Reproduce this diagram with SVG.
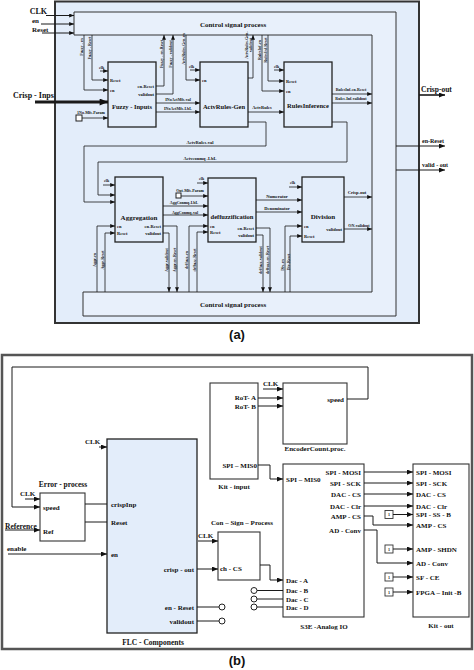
<svg xmlns="http://www.w3.org/2000/svg" width="474" height="670" viewBox="0 0 474 670">
<style>
text{font-family:"Liberation Serif","Times New Roman",serif;font-weight:bold;fill:#111}
.blk{fill:#e3edfa;stroke:#222;stroke-width:1.3}
.csp{fill:#e8f0fb;stroke:#333;stroke-width:1}
.wb{fill:#fff;stroke:#333;stroke-width:1.1}
.ln{fill:none;stroke:#1a1a1a;stroke-width:0.8}
.lb{fill:none;stroke:#1a1a1a;stroke-width:1}
.t4{font-size:4px}.t45{font-size:4.5px}.t6{font-size:6px}.t65{font-size:6.5px}.t7{font-size:7px}.t75{font-size:7.5px}.t8{font-size:8px}
.cap{font-family:"Liberation Sans",Arial,sans-serif;font-size:13px}
.m{text-anchor:middle}.e{text-anchor:end}
</style>
<defs>
<marker id="ma" viewBox="0 0 6 5" refX="6" refY="2.5" markerWidth="5" markerHeight="4" markerUnits="userSpaceOnUse" orient="auto"><path d="M0,0L6,2.5L0,5z" fill="#111"/></marker>
<marker id="mb" viewBox="0 0 6 5" refX="6" refY="2.5" markerWidth="7" markerHeight="5" markerUnits="userSpaceOnUse" orient="auto"><path d="M0,0L6,2.5L0,5z" fill="#111"/></marker>
<marker id="mc" viewBox="0 0 6 5" refX="6" refY="2.5" markerWidth="9" markerHeight="7" markerUnits="userSpaceOnUse" orient="auto"><path d="M0,0L6,2.5L0,5z" fill="#111"/></marker>
</defs>

<!-- ===== Part (a) ===== -->
<g id="a-frame"><rect x="55" y="1.5" width="364" height="321.5" fill="#e3edfa" stroke="#333" stroke-width="2"/></g>
<g id="control-signal-process">
<path class="csp" d="M74,12H396V316H83V292H372V35H74Z"/>
<text class="t7 m" x="233" y="27">Control signal process</text>
<text class="t7 m" x="233" y="307">Control signal process</text>
</g>
<g id="fuzzy-inputs"><rect class="blk" x="108" y="62" width="48" height="65"/>
<text class="t65 m" x="132" y="109">Fuzzy - Inputs</text>
<text class="t45" x="110" y="82">Reset</text><text class="t45" x="110" y="92">en</text>
<text class="t45 e" x="154" y="87.5">en-Reset</text><text class="t45 e" x="154" y="96">validout</text></g>
<g id="actvrules-gen"><rect class="blk" x="200" y="62" width="48" height="65"/>
<text class="t65 m" x="224" y="109">ActvRules-Gen</text>
<text class="t45" x="202" y="82">en</text></g>
<g id="rules-inference"><rect class="blk" x="284" y="62" width="48" height="65"/>
<text class="t65 m" x="308" y="108">RulesInference</text>
<text class="t45" x="286" y="82.5">Reset</text><text class="t45" x="286" y="92.5">en</text></g>
<g id="aggregation"><rect class="blk" x="115" y="177" width="48" height="65"/>
<text class="t7 m" x="139" y="220">Aggregation</text>
<text class="t45" x="117" y="227.5">en</text><text class="t45" x="117" y="235">Reset</text>
<text class="t45 e" x="161" y="227.5">en-Reset</text><text class="t45 e" x="161" y="235">validout</text></g>
<g id="deffuzzification"><rect class="blk" x="208" y="178" width="48" height="64"/>
<text class="t65 m" x="232" y="219">deffuzzification</text>
<text class="t45" x="210" y="227.5">en</text><text class="t45" x="210" y="234">Reset</text>
<text class="t45 e" x="254" y="229.5">en-Reset</text><text class="t45 e" x="254" y="237">validout</text></g>
<g id="division"><rect class="blk" x="302" y="177" width="42" height="65"/>
<text class="t7 m" x="323" y="219">Division</text>
<text class="t45" x="304" y="227.5">en</text><text class="t45" x="304" y="237.5">Reset</text>
<text class="t45 e" x="342" y="231">validout</text></g>
<g id="param-boxes"><rect x="76" y="115" width="6" height="6" fill="#fff" stroke="#222" stroke-width="1"/>
<rect x="176" y="193" width="5" height="5" fill="#fff" stroke="#222" stroke-width="1"/></g>

<g id="a-connectors">
<g class="lb">
<path d="M46,15.5H74" marker-end="url(#ma)"/>
<path d="M41,24H74" marker-end="url(#ma)"/>
<path d="M42,33H74" marker-end="url(#ma)"/>
<path d="M35,102H108" stroke-width="2.8" marker-end="url(#mc)"/>
<path d="M419,95H445" stroke-width="1.6" marker-end="url(#mb)"/>
<path d="M396,146H445" marker-end="url(#mb)"/>
<path d="M396,170H445" marker-end="url(#mb)"/>
</g>
<g class="ln">
<path d="M100,71H108" marker-end="url(#ma)"/>
<path d="M92,35V80H108" marker-end="url(#ma)"/>
<path d="M84,35V90H108" marker-end="url(#ma)"/>
<path d="M156,86H164V35" marker-end="url(#ma)"/>
<path d="M156,94H173V35" marker-end="url(#ma)"/>
<path d="M156,103H200" marker-end="url(#ma)"/>
<path d="M156,112H200" marker-end="url(#ma)"/>
<path d="M82,118H108" marker-end="url(#ma)"/>
<path d="M190,70H200" marker-end="url(#ma)"/>
<path d="M186,35V80H200" marker-end="url(#ma)"/>
<path d="M248,78H253V35" marker-end="url(#ma)"/>
<path d="M248,112H284" marker-end="url(#ma)"/>
<path d="M274,70H284" marker-end="url(#ma)"/>
<path d="M268,35V81H284" marker-end="url(#ma)"/>
<path d="M262,35V91H284" marker-end="url(#ma)"/>
<path d="M332,94H372" marker-end="url(#ma)"/>
<path d="M332,103H372" marker-end="url(#ma)"/>
<path d="M248,122H266V146H84V202H115" marker-end="url(#ma)"/>
<path d="M332,122H347V162H98V195H115" marker-end="url(#ma)"/>
<path d="M103,185H115" marker-end="url(#ma)"/>
<path d="M97,292V226H115" marker-end="url(#ma)"/>
<path d="M105,292V233H115" marker-end="url(#ma)"/>
<path d="M163,226H177V292" marker-end="url(#ma)"/>
<path d="M163,233H169V292" marker-end="url(#ma)"/>
<path d="M181,196H208" marker-end="url(#ma)"/>
<path d="M163,206H208" marker-end="url(#ma)"/>
<path d="M163,215H208" marker-end="url(#ma)"/>
<path d="M197,183H208" marker-end="url(#ma)"/>
<path d="M189,292V226H208" marker-end="url(#ma)"/>
<path d="M197,292V232H208" marker-end="url(#ma)"/>
<path d="M256,228H270V292" marker-end="url(#ma)"/>
<path d="M256,235H263V292" marker-end="url(#ma)"/>
<path d="M256,200H302" marker-end="url(#ma)"/>
<path d="M256,212H302" marker-end="url(#ma)"/>
<path d="M289,187H302" marker-end="url(#ma)"/>
<path d="M285,292V226H302" marker-end="url(#ma)"/>
<path d="M290,292V236H302" marker-end="url(#ma)"/>
<path d="M344,197H372" marker-end="url(#ma)"/>
<path d="M344,229H372" marker-end="url(#ma)"/>
</g>
<text class="t8 e" x="47" y="14">CLK</text>
<text class="t7" x="32" y="23">en</text>
<text class="t7" x="32" y="31.5">Reset</text>
<text class="t8" x="13" y="98">Crisp - Inps</text>
<text class="t75" x="421" y="92">Crisp-out</text>
<text class="t6" x="422" y="143">en-Reset</text>
<text class="t6" x="422" y="167">valid - out</text>
<text class="t4" x="99" y="69">clk</text>
<text class="t4" x="189" y="68">clk</text>
<text class="t4" x="274" y="68">clk</text>
<text class="t4" x="104" y="182">clk</text>
<text class="t4" x="199" y="180">clk</text>
<text class="t4" x="290" y="184">clk</text>
<text class="t4 m" x="178" y="100.5">INoActMfs-val</text>
<text class="t4 m" x="178" y="109.5">INoActMfs-LbL</text>
<text class="t4" x="77" y="114">1No-Mfs-Param</text>
<text class="t45 m" x="262" y="109">ActvRules</text>
<text class="t4 m" x="351" y="91">RulesInf-en-Reset</text>
<text class="t4 m" x="351" y="100">Rules-Inf-validout</text>
<text class="t45 m" x="200" y="144">ActvRules-val</text>
<text class="t45 m" x="200" y="160">Actvconmq -LbL</text>
<text class="t4 m" x="190" y="192">Out-Mfs-Param</text>
<text class="t4 m" x="184" y="204">AggConmq-LbL</text>
<text class="t4 m" x="185" y="213.5">AggConmq-val</text>
<text class="t45 m" x="277" y="198">Numerator</text>
<text class="t45 m" x="277" y="209.5">Denominator</text>
<text class="t45 m" x="357" y="193.5">Crisp-out</text>
<text class="t4 m" x="359" y="226.5">ON-validout</text>
<g class="t4 m">
<text transform="translate(83,47) rotate(-90)">Fuzzy - en</text>
<text transform="translate(91,48) rotate(-90)">Fuzzy - Reset</text>
<text transform="translate(163,54) rotate(-90)">Fuzzy - en-Reset</text>
<text transform="translate(172,54) rotate(-90)">Fuzzy - validout</text>
<text transform="translate(185,49) rotate(-90)">ActvRules-Gen-en</text>
<text transform="translate(248,45) rotate(-90)">ActvRules-Gen-</text>
<text transform="translate(252,45) rotate(-90)">validout</text>
<text transform="translate(261,50) rotate(-90)">RulesInf-en</text>
<text transform="translate(267,50) rotate(-90)">RulesInf-Reset</text>
<text transform="translate(96,260) rotate(-90)">Aggr-en</text>
<text transform="translate(104,260) rotate(-90)">Aggr-Reset</text>
<text transform="translate(168,260) rotate(-90)">Aggr-validout</text>
<text transform="translate(176,260) rotate(-90)">Aggr-en-Reset</text>
<text transform="translate(188,260) rotate(-90)">deffuzz-en</text>
<text transform="translate(196,260) rotate(-90)">deffuzz-Reset</text>
<text transform="translate(262,260) rotate(-90)">deffuzz-validout</text>
<text transform="translate(269,260) rotate(-90)">deffuzz-en-Reset</text>
<text transform="translate(284,265) rotate(-90)">Div-en</text>
<text transform="translate(289.5,262) rotate(-90)">Div-Reset</text>
</g>
</g>
<text class="cap m" x="237" y="339">(a)</text>

<!-- ===== Part (b) ===== -->
<g id="b-frame"><rect x="2" y="355" width="470" height="294" fill="#fff" stroke="#555" stroke-width="2.5"/></g>
<g id="encoder-count"><rect class="wb" x="283" y="383" width="64" height="61"/>
<text class="t7 e" x="344" y="401.5">speed</text>
<text class="t7 m" x="315" y="451">EncoderCount.proc.</text></g>
<g id="kit-input"><rect class="wb" x="210" y="383" width="48" height="96"/>
<text class="t7 e" x="256" y="400">RoT- A</text>
<text class="t7 e" x="256" y="409">RoT- B</text>
<text class="t7 e" x="257" y="467.5">SPI – MIS0</text>
<text class="t7 m" x="234" y="489">Kit - input</text></g>
<g id="error-process"><rect class="wb" x="40" y="493" width="45" height="48"/>
<text class="t7" x="43" y="509.5">speed</text>
<text class="t7" x="43" y="533.5">Ref</text>
<text class="t75 m" x="63" y="487">Error - process</text></g>
<g id="flc-components"><rect class="blk" x="107" y="439" width="90" height="194" stroke="#444" stroke-width="1.1"/>
<text class="t7" x="111" y="506.5">crispInp</text>
<text class="t7" x="111" y="525">Reset</text>
<text class="t7" x="111" y="556.5">en</text>
<text class="t7 e" x="194" y="571.5">crisp - out</text>
<text class="t7 e" x="194" y="609.5">en - Reset</text>
<text class="t7 e" x="194" y="623.5">validout</text>
<text class="t75 m" x="153" y="645">FLC - Components</text></g>
<g id="con-sign-process"><rect class="wb" x="218" y="532" width="42" height="48"/>
<text class="t7" x="220" y="570.5">ch - CS</text>
<text class="t7 m" x="242" y="525">Con – Sign – Process</text></g>
<g id="s3e-analog-io"><rect class="wb" x="283" y="464" width="81" height="153"/>
<text class="t7" x="286" y="481.5">SPI – MIS0</text>
<g class="t7 e">
<text x="361" y="474.5">SPI - MOSI</text><text x="361" y="485.5">SPI - SCK</text>
<text x="361" y="496.5">DAC - CS</text><text x="361" y="508.5">DAC - Clr</text>
<text x="361" y="518.5">AMP - CS</text><text x="361" y="532.5">AD - Conv</text></g>
<g class="t7">
<text x="286" y="582.5">Dac - A</text><text x="286" y="593">Dac - B</text>
<text x="286" y="601.5">Dac - C</text><text x="286" y="609.5">Dac - D</text></g>
<text class="t7 m" x="324" y="629">S3E -Analog IO</text></g>
<g id="kit-out"><rect class="wb" x="413" y="464" width="56" height="153"/>
<g class="t7">
<text x="416" y="474.5">SPI - MOSI</text><text x="416" y="485.5">SPI - SCK</text>
<text x="416" y="496.5">DAC - CS</text><text x="416" y="508.5">DAC - Clr</text>
<text x="416" y="517">SPI - SS - B</text><text x="416" y="527.5">AMP - CS</text>
<text x="416" y="551.5">AMP - SHDN</text><text x="416" y="565.5">AD - Conv</text>
<text x="416" y="579.5">SF - CE</text><text x="416" y="594.5">FPGA – Init -B</text></g>
<text class="t7 m" x="441" y="628">Kit - out</text></g>
<g id="const-1">
<g fill="#fff" stroke="#333" stroke-width="0.9">
<rect x="385" y="510.5" width="8" height="8"/><rect x="385" y="545" width="8" height="8"/>
<rect x="385" y="573" width="8" height="8"/><rect x="385" y="588" width="8" height="8"/></g>
<g class="t4 m"><text x="389" y="516">1</text><text x="389" y="550.5">1</text><text x="389" y="578.5">1</text><text x="389" y="593.5">1</text></g>
</g>
<g id="b-connectors">
<g class="lb">
<path d="M347,399H368V367H12V507H40" marker-end="url(#mb)"/>
<path d="M263,389H283" marker-end="url(#mb)"/>
<path d="M258,398H283" marker-end="url(#mb)"/>
<path d="M258,406H283" marker-end="url(#mb)"/>
<path d="M258,465H270V479H283" marker-end="url(#mb)"/>
<path d="M25,499H40" marker-end="url(#mb)"/>
<path d="M5,530H40" marker-end="url(#mb)"/>
<path d="M85,504H107"/>
<path d="M85,522H107"/>
<path d="M8,554H107" marker-end="url(#mb)"/>
<path d="M99,447H107" marker-end="url(#mb)"/>
<path d="M197,569H218" marker-end="url(#mb)"/>
<path d="M198,541H218" marker-end="url(#mb)"/>
<path d="M197,607H219"/>
<path d="M197,621H219"/>
<path d="M260,565H270V580H283" marker-end="url(#mb)"/>
<path d="M257,590.5H283"/>
<path d="M257,599H283"/>
<path d="M257,607H283"/>
<path d="M364,472H413" marker-end="url(#mb)"/>
<path d="M364,483H413" marker-end="url(#mb)"/>
<path d="M364,494H413" marker-end="url(#mb)"/>
<path d="M364,506H413" marker-end="url(#mb)"/>
<path d="M364,516H373V525H413" marker-end="url(#mb)"/>
<path d="M364,530H377V563H413" marker-end="url(#mb)"/>
<path d="M393,514.5H413" marker-end="url(#mb)"/>
<path d="M393,549H413" marker-end="url(#mb)"/>
<path d="M393,577H413" marker-end="url(#mb)"/>
<path d="M393,592H413" marker-end="url(#mb)"/>
</g>
<g fill="#fff" stroke="#222" stroke-width="1">
<circle cx="222" cy="607" r="3"/><circle cx="222" cy="621" r="3"/>
<circle cx="254" cy="590.5" r="3"/><circle cx="254" cy="599" r="3"/><circle cx="254" cy="607" r="3"/></g>
<text class="t7" x="263" y="386">CLK</text>
<text class="t7" x="85" y="444">CLK</text>
<text class="t7" x="20" y="496">CLK</text>
<text class="t7" x="198" y="538">CLK</text>
<text class="t75" x="5" y="529">Reference</text>
<text class="t7" x="7" y="551">enable</text>
</g>
<text class="cap m" x="237" y="665">(b)</text>
</svg>
